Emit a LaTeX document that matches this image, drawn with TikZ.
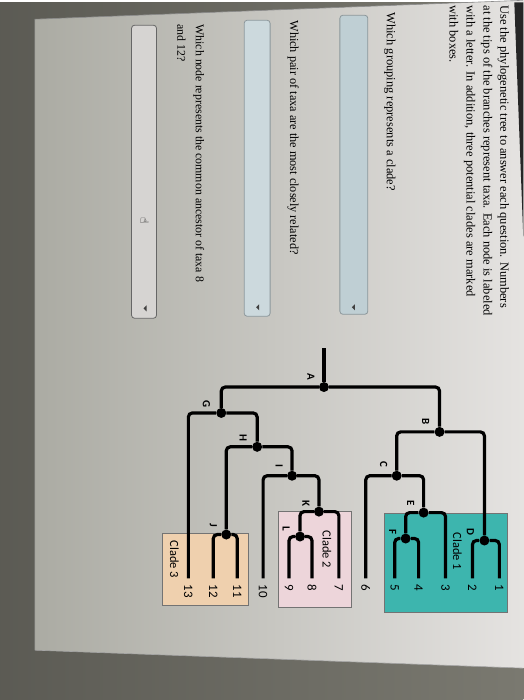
\documentclass[tikz,border=0pt]{standalone}
\usepackage{fontspec}
\setmainfont{Liberation Serif}
\newfontfamily\treefont{Carlito}
\newfontfamily\symfont{DejaVu Sans}
\usetikzlibrary{calc}
\definecolor{bezel}{HTML}{7A7970}
\definecolor{pagelt}{HTML}{E5E3E1}
\definecolor{pagemid}{HTML}{D5D5CF}
\definecolor{pagedk}{HTML}{ABABA3}
\definecolor{cladeone}{HTML}{3DB5AE}
\definecolor{cladetwo}{HTML}{EDD5DA}
\definecolor{cladethree}{HTML}{EFD0AE}
\definecolor{dropfill}{HTML}{BFCFD4}
\definecolor{dropedge}{HTML}{8C979B}
\tikzset{
  branch/.style={line width=3.2pt,rounded corners=4pt},
  dot/.style={circle,fill=black,inner sep=0pt,minimum size=10pt},
  tiplab/.style={rotate=-90,anchor=west,inner sep=0pt,font=\treefont\fontsize{13}{13}\selectfont},
  nlab/.style={rotate=-90,inner sep=0pt,font=\treefont\bfseries\fontsize{11}{11}\selectfont},
  cladebox/.style={draw=black!55,line width=0.9pt},
  cladelab/.style={rotate=-90,inner sep=0pt,font=\treefont\fontsize{12.5}{12.5}\selectfont},
  qtext/.style={rotate=-90,anchor=north west,inner sep=0pt,align=left},
  dropbox/.style={draw=dropedge,fill=dropfill,rounded corners=3pt,line width=0.8pt},
  droparrow/.style={fill=black!75},
}
\begin{document}
\begin{tikzpicture}[x=1pt,y=-1pt]
  % photo background and page
  \shade[left color=bezel!75!black,right color=bezel] (0,0) rectangle (525,700);
  \shade[left color=pagedk,middle color=pagemid,right color=pagelt] (35,17) -- (525,-2) -- (525,668) -- (35,650) -- cycle;
  \draw[black!45,line width=0.6pt] (35,650) -- (35,17) -- (525,-2);
  \draw[black!35,line width=0.6pt] (35,650) -- (525,668);
  \fill[black!85] (516,0) -- (525,0) -- (525,235) -- cycle;

  % question text
  \node[qtext,font=\fontsize{12.5}{17}\selectfont] (intro) at (511,3) {Use the phylogenetic tree to answer each question. Numbers\\
    at the tips of the branches represent taxa. Each node is labeled\\
    with a letter. In addition, three potential clades are marked\\
    with boxes.};
  \node[qtext,font=\fontsize{12.5}{12.5}\selectfont] (q1) at (397,10) {Which grouping represents a clade?};
  \node[qtext,font=\fontsize{12.3}{12.3}\selectfont] (q2) at (300,18) {Which pair of taxa are the most closely related?};
  \node[qtext,font=\fontsize{11.9}{18.5}\selectfont] (q3) at (205,22) {Which node represents the common ancestor of taxa 8\\and 12?};

  % answer boxes
  \draw[dropbox] (341,13) rectangle (369,313);
  \fill[droparrow] (356,303) -- (356,309) -- (353,306) -- cycle;
  \draw[dropbox,fill=dropfill!80!white] (245,18) rectangle (271,315);
  \fill[droparrow] (260,303) -- (260,309) -- (257,306) -- cycle;
  \draw[dropbox,draw=black!60,fill=pagelt!85!gray] (132,23) rectangle (157,317);
  \fill[droparrow] (147,304) -- (147,310) -- (144,307) -- cycle;
  \node[rotate=-90,inner sep=0pt,font=\symfont\fontsize{11}{11}\selectfont] (cursor) at (145,219) {☝};

  % clade boxes
  \draw[cladebox,fill=cladeone] (386,513) rectangle (509,612);
  \draw[cladebox,fill=cladetwo] (279,511) rectangle (353,607);
  \draw[cladebox,fill=cladethree] (163,533) rectangle (249,605);
  \node[cladelab] (c1lab) at (459,551) {Clade 1};
  \node[cladelab] (c2lab) at (328,549) {Clade 2};
  \node[cladelab] (c3lab) at (175,559) {Clade 3};

  % internal nodes
  \coordinate (root) at (325,347);
  \node[dot] (A) at (325,386) {};
  \node[dot] (G) at (222,412) {};
  \node[dot] (B) at (441,431) {};
  \node[dot] (H) at (258,446) {};
  \node[dot] (I) at (293,475) {};
  \node[dot] (C) at (398,475) {};
  \node[dot] (K) at (320,511) {};
  \node[dot] (E) at (425,512) {};
  \node[dot] (J) at (227,534) {};
  \node[dot] (L) at (301,536) {};
  \node[dot] (F) at (407,538) {};
  \node[dot] (D) at (486,540) {};
  \foreach \n/\dx/\dy in {A/-13/-10,G/-15/-9,B/-14/-10,H/-14/-9,I/-13/-10,C/-13/-11,
                          K/-13/-8,E/-13/-9,J/-13/-9,L/-14/-8,F/-13/-7,D/-14/-9}
    \node[nlab] (lab\n) at ([shift={(\dx,\dy)}]\n) {\n};

  % tips
  \foreach \t/\x in {1/501,2/474,3/447,4/420,5/396,6/367,7/340,8/313,9/290,10/264,11/238,12/214,13/189} {
    \coordinate (t\t) at (\x,578);
    \node[tiplab] (n\t) at (\x,584) {\t};
  }

  % branches
  \draw[branch] (root) -- (A);
  \draw[branch] (A) -| (G);
  \draw[branch] (A) -| (B);
  \draw[branch] (G) -| (t13);
  \draw[branch] (G) -| (H);
  \draw[branch] (H) -| (J);
  \draw[branch] (H) -| (I);
  \draw[branch] (J) -| (t12);
  \draw[branch] (J) -| (t11);
  \draw[branch] (I) -| (t10);
  \draw[branch] (I) -| (K);
  \draw[branch] (K) -| (L);
  \draw[branch] (K) -| (t7);
  \draw[branch] (L) -| (t9);
  \draw[branch] (L) -| (t8);
  \draw[branch] (B) -| (C);
  \draw[branch] (B) -| (D);
  \draw[branch] (C) -| (t6);
  \draw[branch] (C) -| (E);
  \draw[branch] (E) -| (F);
  \draw[branch] (E) -| (t3);
  \draw[branch] (F) -| (t5);
  \draw[branch] (F) -| (t4);
  \draw[branch] (D) -| (t2);
  \draw[branch] (D) -| (t1);
\end{tikzpicture}
\end{document}
